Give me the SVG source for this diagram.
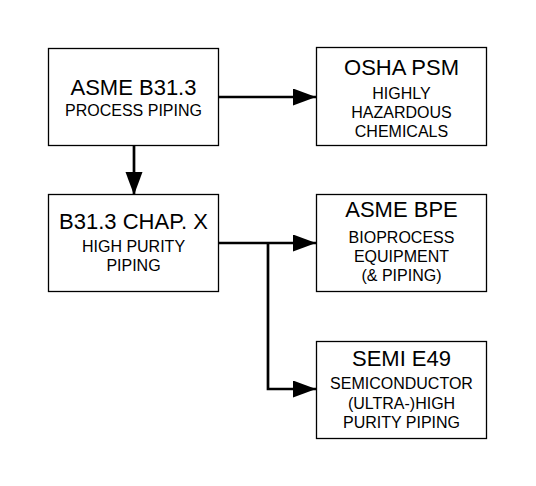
<svg xmlns="http://www.w3.org/2000/svg" width="536" height="486" viewBox="0 0 536 486">
<defs>
<marker id="ah" markerUnits="userSpaceOnUse" markerWidth="24" markerHeight="18" refX="23" refY="8.5" orient="auto">
<path d="M0,0 L23,8.5 L0,17 Z" fill="#000"/>
</marker>
</defs>
<style>
.box{fill:#fff;stroke:#000;stroke-width:1.3}
.t{font-family:"Liberation Sans",Arial,sans-serif;font-size:22px;text-anchor:middle;fill:#000}
.s{font-family:"Liberation Sans",Arial,sans-serif;font-size:16px;text-anchor:middle;fill:#000}
.c{fill:none;stroke:#000;stroke-width:2.7}
</style>
<rect width="536" height="486" fill="#fff"/>
<g id="connectors">
<path class="c" d="M219,97 H316" marker-end="url(#ah)"/>
<path class="c" d="M134,146 V195" marker-end="url(#ah)"/>
<path class="c" d="M219,243 H316" marker-end="url(#ah)"/>
<path class="c" d="M268,243 V389 H316" marker-end="url(#ah)"/>
</g>
<g id="asme-b313">
<rect class="box" x="48.5" y="48.5" width="170" height="97"/>
<text class="t" x="133.5" y="95">ASME B31.3</text>
<text class="s" x="133.5" y="116">PROCESS PIPING</text>
</g>
<g id="osha-psm">
<rect class="box" x="316.5" y="47.5" width="170" height="98"/>
<text class="t" x="401.5" y="75">OSHA PSM</text>
<text class="s" x="401.5" y="99">HIGHLY</text>
<text class="s" x="401.5" y="118">HAZARDOUS</text>
<text class="s" x="401.5" y="137">CHEMICALS</text>
</g>
<g id="chap-x">
<rect class="box" x="48.5" y="194.5" width="170" height="97"/>
<text class="t" x="133.5" y="229">B31.3 CHAP. X</text>
<text class="s" x="133.5" y="252">HIGH PURITY</text>
<text class="s" x="133.5" y="271">PIPING</text>
</g>
<g id="asme-bpe">
<rect class="box" x="316.5" y="194.5" width="170" height="97"/>
<text class="t" x="401.5" y="217">ASME BPE</text>
<text class="s" x="401.5" y="243">BIOPROCESS</text>
<text class="s" x="401.5" y="262">EQUIPMENT</text>
<text class="s" x="401.5" y="281">(&amp; PIPING)</text>
</g>
<g id="semi-e49">
<rect class="box" x="316.5" y="341.5" width="170" height="97"/>
<text class="t" x="401.5" y="366">SEMI E49</text>
<text class="s" x="401.5" y="389">SEMICONDUCTOR</text>
<text class="s" x="401.5" y="409">(ULTRA-)HIGH</text>
<text class="s" x="401.5" y="428">PURITY PIPING</text>
</g>
</svg>
